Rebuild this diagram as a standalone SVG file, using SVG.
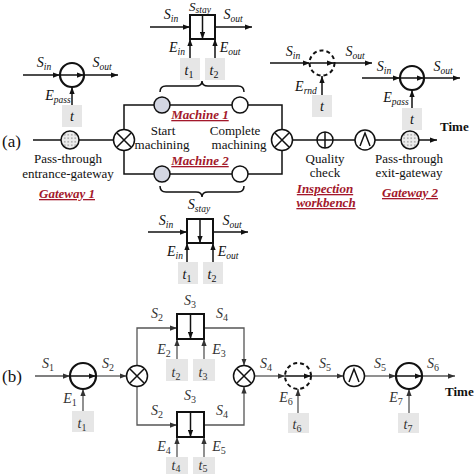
<svg xmlns="http://www.w3.org/2000/svg" width="474" height="474" viewBox="0 0 474 474">
<defs>
<style>
.ln{fill:none;stroke:#111;stroke-width:1.5}
.lg{fill:none;stroke:#555;stroke-width:1.3}
.nd{fill:#fff;stroke:#111;stroke-width:1.5}
.th{fill:#fff;stroke:#111;stroke-width:2.2}
.ds{fill:#fff;stroke:#111;stroke-width:2;stroke-dasharray:4 3}
.bx{fill:#fff;stroke:#111;stroke-width:2}
.gb{fill:#e6e6e6;stroke:none}
.mg{fill:#d3d6e2;stroke:#111;stroke-width:1.5}
.dt{fill:url(#dots);stroke:#111;stroke-width:1.5}
text{font-family:"Liberation Serif","Times New Roman",serif;fill:#111}
.v{font-style:italic;font-size:14px;text-anchor:middle}
.vb{font-style:italic;font-size:14px;text-anchor:middle;fill:#333}
.sb{font-size:9.5px}
.sd{font-size:10px;font-style:normal}
.lb{font-size:13px;text-anchor:middle}
.rd{font-size:13px;font-weight:bold;font-style:italic;fill:#a3182b;text-anchor:middle;text-decoration:underline}
.tm{font-size:13px;font-weight:bold}
.pa{font-size:17px}
</style>
<pattern id="dots" width="3.5" height="3.5" patternUnits="userSpaceOnUse"><rect width="3.5" height="3.5" fill="#ececec"/><circle cx="1.75" cy="1.75" r="0.6" fill="#555"/></pattern>
<marker id="ah" viewBox="0 0 8 6" refX="8" refY="3" markerWidth="7" markerHeight="5.5" markerUnits="userSpaceOnUse" orient="auto"><path d="M0,0 L8,3 L0,6 z" fill="#111"/></marker>
<marker id="ag" viewBox="0 0 8 6" refX="8" refY="3" markerWidth="7" markerHeight="5.5" markerUnits="userSpaceOnUse" orient="auto"><path d="M0,0 L8,3 L0,6 z" fill="#333"/></marker>
</defs>

<!-- ===== (a) connectors ===== -->
<g id="connectors-a">
<path class="ln" d="M23,75 H60" marker-end="url(#ah)"/>
<path class="ln" d="M84,75 H118" marker-end="url(#ah)"/>
<path class="ln" d="M72,105 V87" marker-end="url(#ah)"/>
<path class="ln" d="M150,27 H190" marker-end="url(#ah)"/>
<path class="ln" d="M215,27 H252" marker-end="url(#ah)"/>
<path class="ln" d="M190,58 V39" marker-end="url(#ah)"/>
<path class="ln" d="M215,58 V39" marker-end="url(#ah)"/>
<path class="ln" d="M270,63 H310" marker-end="url(#ah)"/>
<path class="ln" d="M334,63 H372" marker-end="url(#ah)"/>
<path class="ln" d="M322,95 V76" marker-end="url(#ah)"/>
<path class="ln" d="M362,78 H400" marker-end="url(#ah)"/>
<path class="ln" d="M424,78 H460" marker-end="url(#ah)"/>
<path class="ln" d="M412,108 V90" marker-end="url(#ah)"/>
<path class="ln" d="M160,92 Q160,86 166,86 H196 Q202,86 202,81 Q202,86 208,86 H238 Q244,86 244,92"/>
<path class="ln" d="M160,186 Q160,192 166,192 H196 Q202,192 202,197 Q202,192 208,192 H238 Q244,192 244,186"/>
<path class="ln" d="M124,129 V105 H154"/>
<path class="ln" d="M170,105 H232"/>
<path class="ln" d="M248,105 H282 V129"/>
<path class="ln" d="M124,151 V174 H154"/>
<path class="ln" d="M170,174 H232"/>
<path class="ln" d="M248,174 H282 V151"/>
<path class="ln" d="M33,140 H61"/>
<path class="ln" d="M79,140 H113"/>
<path class="ln" d="M293,140 H317"/>
<path class="ln" d="M333,140 H355"/>
<path class="ln" d="M375,140 H401"/>
<path class="ln" d="M419,140 H437" marker-end="url(#ah)"/>
<path class="ln" d="M148,232 H187" marker-end="url(#ah)"/>
<path class="ln" d="M213,232 H248" marker-end="url(#ah)"/>
<path class="ln" d="M187,262 V243" marker-end="url(#ah)"/>
<path class="ln" d="M213,262 V243" marker-end="url(#ah)"/>
</g>

<!-- ===== (a) nodes ===== -->
<g id="pass-a-left">
<circle class="th" cx="72" cy="75" r="12"/>
<path class="ln" d="M60,75 H84" marker-end="url(#ah)"/>
<rect class="gb" x="62" y="105" width="20" height="22"/>
<text class="v" x="72" y="121">t</text>
<text class="v" x="44" y="67">S<tspan class="sb" dy="3">in</tspan></text>
<text class="v" x="102" y="67">S<tspan class="sb" dy="3">out</tspan></text>
<text class="v" x="58" y="100">E<tspan class="sb" dy="3">pass</tspan></text>
</g>
<g id="stay-a-top">
<rect class="bx" x="190" y="15" width="25" height="24"/>
<path class="ln" d="M202.5,15 V39" marker-end="url(#ah)"/>
<rect class="gb" x="180" y="58" width="20" height="22"/>
<rect class="gb" x="205" y="58" width="20" height="22"/>
<text class="v" x="189" y="75">t<tspan class="sd" dy="3">1</tspan></text>
<text class="v" x="214" y="75">t<tspan class="sd" dy="3">2</tspan></text>
<text class="v" x="200" y="11" style="font-size:13px">S<tspan class="sb" dy="2">stay</tspan></text>
<text class="v" x="171" y="19">S<tspan class="sb" dy="3">in</tspan></text>
<text class="v" x="233" y="19">S<tspan class="sb" dy="3">out</tspan></text>
<text class="v" x="177" y="52">E<tspan class="sb" dy="3">in</tspan></text>
<text class="v" x="230" y="52">E<tspan class="sb" dy="3">out</tspan></text>
</g>
<g id="rnd-a">
<circle class="ds" cx="322" cy="63" r="12.5"/>
<path class="ln" d="M310,63 H334" marker-end="url(#ah)"/>
<rect class="gb" x="312" y="95" width="20" height="22"/>
<text class="v" x="322" y="111">t</text>
<text class="v" x="293" y="56">S<tspan class="sb" dy="3">in</tspan></text>
<text class="v" x="355" y="56">S<tspan class="sb" dy="3">out</tspan></text>
<text class="v" x="306" y="91">E<tspan class="sb" dy="3">rnd</tspan></text>
</g>
<g id="pass-a-right">
<circle class="th" cx="412" cy="78" r="12"/>
<path class="ln" d="M400,78 H424" marker-end="url(#ah)"/>
<rect class="gb" x="402" y="108" width="20" height="22"/>
<text class="v" x="412" y="124">t</text>
<text class="v" x="384" y="71">S<tspan class="sb" dy="3">in</tspan></text>
<text class="v" x="443" y="71">S<tspan class="sb" dy="3">out</tspan></text>
<text class="v" x="396" y="102">E<tspan class="sb" dy="3">pass</tspan></text>
</g>
<g id="gateway1">
<circle class="dt" cx="70" cy="140" r="9"/>
<text class="pa" x="2" y="147">(a)</text>
<text class="lb" x="68" y="163">Pass-through</text>
<text class="lb" x="68" y="178">entrance-gateway</text>
<text class="rd" x="67" y="198">Gateway 1</text>
</g>
<g id="split-a">
<circle class="nd" cx="124" cy="140" r="10.5"/>
<path class="ln" d="M117,133 L131,147 M131,133 L117,147"/>
</g>
<g id="machine1">
<circle class="mg" cx="162" cy="105" r="8"/>
<circle class="nd" cx="240" cy="105" r="8"/>
<text class="rd" x="200" y="119">Machine 1</text>
</g>
<g id="machine-labels">
<text class="lb" x="163" y="135">Start</text>
<text class="lb" x="162" y="149">machining</text>
<text class="lb" x="235" y="135">Complete</text>
<text class="lb" x="239" y="149">machining</text>
</g>
<g id="machine2">
<circle class="mg" cx="162" cy="174" r="8"/>
<circle class="nd" cx="240" cy="174" r="8"/>
<text class="rd" x="200" y="165">Machine 2</text>
</g>
<g id="stay-a-bottom">
<rect class="bx" x="187" y="219" width="26" height="24"/>
<path class="ln" d="M200,219 V243" marker-end="url(#ah)"/>
<rect class="gb" x="178" y="262" width="20" height="22"/>
<rect class="gb" x="203" y="262" width="20" height="22"/>
<text class="v" x="187" y="279">t<tspan class="sd" dy="3">1</tspan></text>
<text class="v" x="212" y="279">t<tspan class="sd" dy="3">2</tspan></text>
<text class="v" x="199" y="209">S<tspan class="sb" dy="3">stay</tspan></text>
<text class="v" x="166" y="225">S<tspan class="sb" dy="3">in</tspan></text>
<text class="v" x="232" y="225">S<tspan class="sb" dy="3">out</tspan></text>
<text class="v" x="175" y="256">E<tspan class="sb" dy="3">in</tspan></text>
<text class="v" x="228" y="256">E<tspan class="sb" dy="3">out</tspan></text>
</g>
<g id="merge-a">
<circle class="nd" cx="282" cy="140" r="10.5"/>
<path class="ln" d="M275,133 L289,147 M289,133 L275,147"/>
</g>
<g id="inspection">
<circle class="nd" cx="325" cy="140" r="8"/>
<path class="ln" d="M317,140 H333 M325,132 V148"/>
<text class="lb" x="325" y="163">Quality</text>
<text class="lb" x="325" y="177">check</text>
<text class="rd" x="325" y="193">Inspection</text>
<text class="rd" x="326" y="207">workbench</text>
</g>
<g id="and-a">
<circle class="nd" cx="365" cy="140" r="10"/>
<path class="ln" d="M360,146 L365,133 L370,146"/>
</g>
<g id="gateway2">
<circle class="dt" cx="410" cy="140" r="9"/>
<text class="tm" x="440" y="131">Time</text>
<text class="lb" x="409" y="163">Pass-through</text>
<text class="lb" x="409" y="177">exit-gateway</text>
<text class="rd" x="410" y="197">Gateway 2</text>
</g>

<!-- ===== (b) connectors ===== -->
<g id="connectors-b">
<path class="lg" d="M35,376 H70" marker-end="url(#ag)"/>
<path class="lg" d="M96,376 H126.5" marker-end="url(#ag)"/>
<path class="lg" d="M83,412 V389" marker-end="url(#ag)"/>
<path class="lg" d="M137,365.5 V328 H177" marker-end="url(#ag)"/>
<path class="lg" d="M137,386.5 V425 H177" marker-end="url(#ag)"/>
<path class="lg" d="M204,328 H244 V365.5" marker-end="url(#ag)"/>
<path class="lg" d="M204,425 H244 V386.5" marker-end="url(#ag)"/>
<path class="lg" d="M177,359 V339" marker-end="url(#ag)"/>
<path class="lg" d="M204,359 V339" marker-end="url(#ag)"/>
<path class="lg" d="M177,457 V437" marker-end="url(#ag)"/>
<path class="lg" d="M204,457 V437" marker-end="url(#ag)"/>
<path class="lg" d="M254.5,376 H285" marker-end="url(#ag)"/>
<path class="lg" d="M311,376 H343.5" marker-end="url(#ag)"/>
<path class="lg" d="M364.5,376 H396" marker-end="url(#ag)"/>
<path class="lg" d="M422,376 H455" marker-end="url(#ag)"/>
<path class="lg" d="M298,413 V389" marker-end="url(#ag)"/>
<path class="lg" d="M409,413 V389" marker-end="url(#ag)"/>
</g>

<!-- ===== (b) nodes ===== -->
<g id="pass-b1">
<text class="pa" x="2" y="382">(b)</text>
<circle class="th" cx="83" cy="376" r="13"/>
<path class="ln" d="M70,376 H96" marker-end="url(#ah)"/>
<rect class="gb" x="72" y="411" width="22" height="21"/>
<text class="vb" x="82" y="428">t<tspan class="sd" dy="3">1</tspan></text>
<text class="vb" x="48" y="368">S<tspan class="sd" dy="3">1</tspan></text>
<text class="vb" x="108" y="368">S<tspan class="sd" dy="3">2</tspan></text>
<text class="vb" x="70" y="403">E<tspan class="sd" dy="3">1</tspan></text>
</g>
<g id="split-b">
<circle class="nd" cx="137" cy="376" r="10.5"/>
<path class="ln" d="M130,369 L144,383 M144,369 L130,383"/>
</g>
<g id="stay-b-upper">
<rect class="bx" x="177" y="314" width="27" height="25"/>
<path class="ln" d="M190.5,314 V339" marker-end="url(#ah)"/>
<rect class="gb" x="166" y="359" width="22" height="22"/>
<rect class="gb" x="193" y="359" width="22" height="22"/>
<text class="vb" x="176" y="377">t<tspan class="sd" dy="3">2</tspan></text>
<text class="vb" x="203" y="377">t<tspan class="sd" dy="3">3</tspan></text>
<text class="vb" x="190" y="305">S<tspan class="sd" dy="3">3</tspan></text>
<text class="vb" x="157" y="318">S<tspan class="sd" dy="3">2</tspan></text>
<text class="vb" x="222" y="318">S<tspan class="sd" dy="3">4</tspan></text>
<text class="vb" x="164" y="354">E<tspan class="sd" dy="3">2</tspan></text>
<text class="vb" x="219" y="354">E<tspan class="sd" dy="3">3</tspan></text>
</g>
<g id="stay-b-lower">
<rect class="bx" x="177" y="412" width="27" height="25"/>
<path class="ln" d="M190.5,412 V437" marker-end="url(#ah)"/>
<rect class="gb" x="166" y="457" width="22" height="17"/>
<rect class="gb" x="193" y="457" width="22" height="17"/>
<text class="vb" x="176" y="470">t<tspan class="sd" dy="2">4</tspan></text>
<text class="vb" x="203" y="470">t<tspan class="sd" dy="2">5</tspan></text>
<text class="vb" x="190" y="400">S<tspan class="sd" dy="3">3</tspan></text>
<text class="vb" x="157" y="415">S<tspan class="sd" dy="3">2</tspan></text>
<text class="vb" x="222" y="415">S<tspan class="sd" dy="3">4</tspan></text>
<text class="vb" x="164" y="451">E<tspan class="sd" dy="3">4</tspan></text>
<text class="vb" x="219" y="451">E<tspan class="sd" dy="3">5</tspan></text>
</g>
<g id="merge-b">
<circle class="nd" cx="244" cy="376" r="10.5"/>
<path class="ln" d="M237,369 L251,383 M251,369 L237,383"/>
<text class="vb" x="266" y="368">S<tspan class="sd" dy="3">4</tspan></text>
</g>
<g id="rnd-b">
<circle class="ds" cx="298" cy="376" r="13"/>
<path class="ln" d="M285,376 H311" marker-end="url(#ah)"/>
<rect class="gb" x="288" y="413" width="21" height="20"/>
<text class="vb" x="297" y="429">t<tspan class="sd" dy="3">6</tspan></text>
<text class="vb" x="286" y="402">E<tspan class="sd" dy="3">6</tspan></text>
<text class="vb" x="325" y="368">S<tspan class="sd" dy="3">5</tspan></text>
</g>
<g id="and-b">
<circle class="nd" cx="354" cy="376" r="10.5"/>
<path class="ln" d="M349,382 L354,369 L359,382"/>
<text class="vb" x="380" y="368">S<tspan class="sd" dy="3">5</tspan></text>
</g>
<g id="pass-b2">
<circle class="th" cx="409" cy="376" r="13"/>
<path class="ln" d="M396,376 H422" marker-end="url(#ah)"/>
<rect class="gb" x="398" y="413" width="21" height="20"/>
<text class="vb" x="408" y="429">t<tspan class="sd" dy="3">7</tspan></text>
<text class="vb" x="396" y="402">E<tspan class="sd" dy="3">7</tspan></text>
<text class="vb" x="433" y="368">S<tspan class="sd" dy="3">6</tspan></text>
<text class="tm" x="445" y="396">Time</text>
</g>
</svg>
